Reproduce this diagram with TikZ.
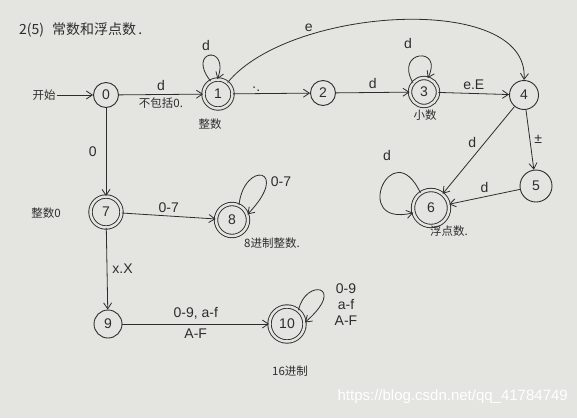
\documentclass[tikz,border=0pt]{standalone}
\usepackage{fontspec}
\setmainfont{Liberation Sans}
\newfontfamily\cjk{Noto Sans CJK SC}
\usetikzlibrary{arrows.meta}
\definecolor{paper}{RGB}{228,228,224}
\definecolor{ink}{RGB}{45,45,45}
\tikzset{
 st/.style={circle,draw=ink,line width=0.9pt,inner sep=0pt,font=\fontsize{14}{14}\selectfont,text=ink},
 acc/.style={st,double=paper,double distance=2.5pt},
 tr/.style={draw=ink,line width=0.8pt,-{Straight Barb[length=6pt,width=8pt]}},
 lab/.style={font=\fontsize{14}{14}\selectfont,text=ink,inner sep=1pt},
 cn/.style={font=\cjk\fontsize{11.5}{12}\selectfont,text=ink,inner sep=1pt},
}
\begin{document}
\begin{tikzpicture}[x=1pt,y=-1pt]
\fill[paper] (0,0) rectangle (577,418);
\useasboundingbox (0,0) rectangle (577,418);
% title
\node[cn,anchor=west,font=\cjk\fontsize{14}{14}\selectfont] (title) at (18,30) {2(5)\,\, 常数和浮点数\,.};
% states
\node[st,minimum size=25pt] (s0) at (106,95) {0};
\node[acc,minimum size=29pt] (s1) at (218,94) {1};
\node[st,minimum size=25pt] (s2) at (323,93) {2};
\node[acc,minimum size=28pt] (s3) at (424,92) {3};
\node[st,minimum size=29pt] (s4) at (524,95) {4};
\node[st,minimum size=32pt] (s5) at (536,186) {5};
\node[acc,minimum size=36pt] (s6) at (431,208) {6};
\node[acc,minimum size=31pt] (s7) at (106,212) {7};
\node[acc,minimum size=32pt] (s8) at (232,220) {8};
\node[st,minimum size=28pt] (s9) at (108,324) {9};
\node[acc,minimum size=35pt] (s10) at (287,324) {10};
% start
\node[cn] (start) at (44,95) {开始};
\draw[tr] (start) -- (s0);
% edges
\draw[tr] (s0) -- node[lab,above=2pt] (l01) {d} node[cn,below=2pt] (l01b) {不包括0.} (s1);
\draw[tr] (s1) -- node[lab,above=1pt,pos=0.3] (l12) {·.} (s2);
\draw[tr] (s2) -- node[lab,above=2pt] (l23) {d} (s3);
\draw[tr] (s3) -- node[lab,above=2pt] (l34) {e.E} (s4);
\draw[tr] (s1.50) .. controls (290,6) and (530,-8) .. node[lab,pos=0.27,above=2pt] (l14) {e} (s4.north);
\draw[tr] (s4) -- node[lab,right=3pt] (l45) {±} (s5);
\draw[tr] (s4) -- node[lab,above left=1pt] (l46) {d} (s6);
\draw[tr] (s5) -- node[lab,above=3pt] (l56) {d} (s6);
\draw[tr] (s0) -- node[lab,left=8pt] (l07) {0} (s7);
\draw[tr] (s7) -- node[lab,above=2pt] (l78) {0-7} (s8);
\draw[tr] (s7) -- node[lab,right=4pt] (l79) {x.X} (s9);
\draw[tr] (s9) -- node[lab,above=3pt] (l910) {0-9, a-f} node[lab,below=3pt] (l910b) {A-F} (s10);
% loops
\draw[tr] (s1.120) .. controls (186,50) and (230,44) .. (s1.92);
\node[lab] (lp1) at (206,45) {d};
\draw[tr] (s3.140) .. controls (394,50) and (444,46) .. (s3.75);
\node[lab] (lp3) at (408,43) {d};
\draw[tr] (s6.125) .. controls (392,132) and (350,228) .. (s6.195);
\node[lab] (lp6) at (387,155) {d};
\draw[tr] (s8.65) .. controls (244,160) and (292,168) .. (s8.20);
\node[lab] (lp8) at (281,182) {0-7};
\draw[tr] (s10.50) .. controls (305,278) and (348,285) .. (s10.5);
\node[lab,align=center] (lp10) at (346,305) {0-9\\[2pt]a-f\\[2pt]A-F};
% state annotations
\node[cn] (n1) at (210,124) {整数};
\node[cn] (n3) at (425,115) {小数};
\node[cn] (n6) at (449,231) {浮点数.};
\node[cn] (n7) at (46,213) {整数0};
\node[cn] (n8) at (272,243) {8进制整数.};
\node[cn] (n10) at (290,371) {16进制};
% watermark
\node[anchor=east,text=white,font=\fontsize{15}{15}\selectfont,inner sep=0pt] (wm) at (568,397) {https://blog.csdn.net/qq\_41784749};
\end{tikzpicture}
\end{document}
